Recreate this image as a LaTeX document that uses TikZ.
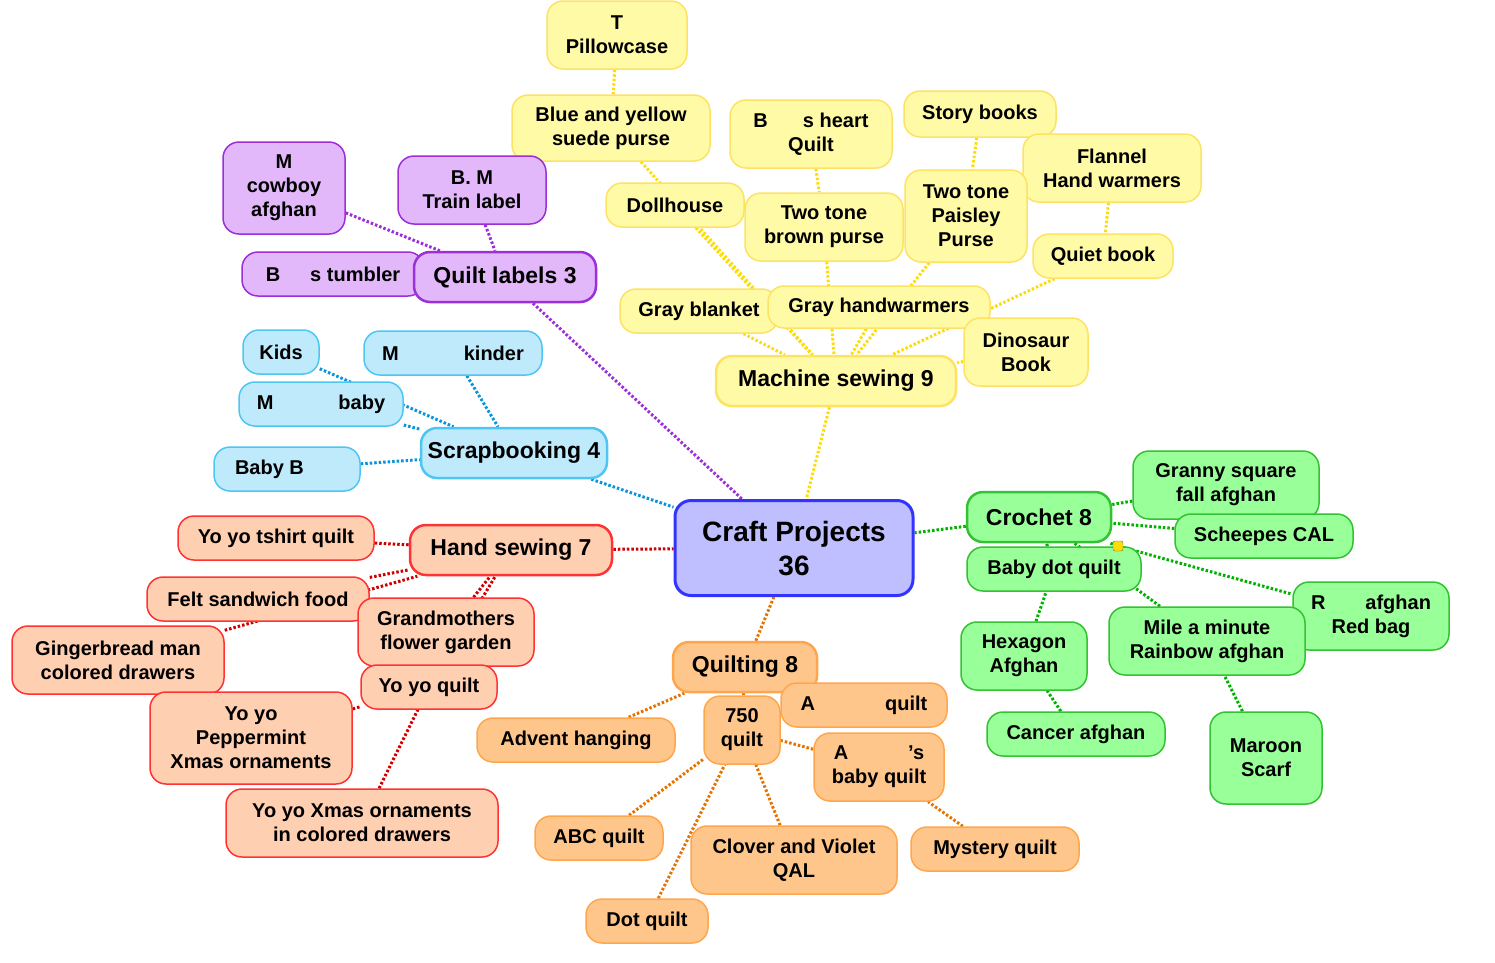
\documentclass[tikz,border=0pt]{standalone}
\usepackage{fontspec}
\setmainfont{Liberation Sans}
\usetikzlibrary{backgrounds}
\definecolor{pfill}{HTML}{E2B8FA}
\definecolor{pdraw}{HTML}{9B30D9}
\begin{document}
\begin{tikzpicture}[x=1pt,y=-1pt,
 box/.style={rounded corners=16pt,line width=1.5pt,align=center,inner sep=2pt,font=\fontsize{20}{24}\selectfont\bfseries},
 cat/.style={box,line width=2.5pt,font=\fontsize{23}{27}\selectfont\bfseries},
 yb/.style={box,draw=yellow!70!orange!60,fill=yellow!35},
 pb/.style={box,draw=pdraw,fill=pfill},
 bb/.style={box,draw=cyan!70,fill=cyan!25},
 rb/.style={box,draw=red!80,fill=red!25!orange!30},
 ob/.style={box,draw=orange!70,fill=orange!45},
 gb/.style={box,draw=green!70!black!80,fill=green!40},
 e/.style={line width=3pt,dash pattern=on 2.5pt off 2pt},
 ye/.style={e,draw=yellow!80!orange},
 pe/.style={e,draw=pdraw},
 be/.style={e,draw=cyan!80!blue},
 re/.style={e,draw=red!80!black},
 oe/.style={e,draw=orange!90!black},
 ge/.style={e,draw=green!70!black}]
\useasboundingbox (0,0) rectangle (1495,962);
% center
\node[box,line width=3pt,draw=blue!80,fill=blue!25,minimum width=238,minimum height=95,font=\fontsize{28}{34}\selectfont\bfseries] (c) at (794,548) {Craft Projects\\36};
% yellow
\node[yb,minimum width=140,minimum height=68] (pil) at (617,35) {T\hspace{60pt}\\Pillowcase};
\node[yb,minimum width=198,minimum height=66] (byp) at (611,128) {Blue and yellow\\suede purse};
\node[yb,minimum width=162,minimum height=68] (hq) at (811,134) {B\hspace{35pt}s heart\\Quilt};
\node[yb,minimum width=152,minimum height=46] (sb) at (980,114) {Story books};
\node[yb,minimum width=178,minimum height=68] (fl) at (1112,168) {Flannel\\Hand warmers};
\node[yb,minimum width=138,minimum height=44] (dh) at (675,205) {Dollhouse};
\node[yb,minimum width=158,minimum height=68] (tb) at (824,227) {Two tone\\brown purse};
\node[yb,minimum width=122,minimum height=92] (pp) at (966,216) {Two tone\\Paisley\\Purse};
\node[yb,minimum width=140,minimum height=44] (qb) at (1103,256) {Quiet book};
\node[yb,minimum width=158,minimum height=44] (gbl) at (699,311) {Gray blanket};
\node[yb,minimum width=222,minimum height=42] (gh) at (879,307) {Gray handwarmers};
\node[yb,minimum width=124,minimum height=68] (db) at (1026,352) {Dinosaur\\Book};
\node[yb,cat,draw=yellow!70!orange!60,minimum width=240,minimum height=50] (ms) at (836,381) {Machine sewing 9};
% purple
\node[pb,minimum width=122,minimum height=92] (cow) at (284,188) {M\hspace{70pt}\\cowboy\\afghan};
\node[pb,minimum width=148,minimum height=68] (tl) at (472,190) {B. M\hspace{70pt}\\Train label};
\node[pb,minimum width=182,minimum height=44] (tum) at (333,274) {B\hspace{30pt}s tumbler};
\node[pb,cat,draw=pdraw,minimum width=182,minimum height=50] (ql) at (505,277) {Quilt labels 3};
% blue
\node[bb,minimum width=76,minimum height=44] (kid) at (281,352) {Kids};
\node[bb,minimum width=178,minimum height=44] (kin) at (453,353) {M\hspace{65pt}kinder};
\node[bb,minimum width=164,minimum height=44] (bab) at (321,404) {M\hspace{65pt}baby};
\node[bb,minimum width=146,minimum height=44] (bbb) at (287,469) {Baby B\hspace{35pt}};
\node[bb,cat,draw=cyan!70,minimum width=186,minimum height=50] (sc) at (514,453) {Scrapbooking 4};
% red
\node[rb,minimum width=196,minimum height=44] (ts) at (276,538) {Yo yo tshirt quilt};
\node[rb,cat,draw=red!80,minimum width=202,minimum height=50] (hs) at (511,550) {Hand sewing 7};
\node[rb,minimum width=222,minimum height=44] (fs) at (258,599) {Felt sandwich food};
\node[rb,minimum width=176,minimum height=68] (gf) at (446,632) {Grandmothers\\flower garden};
\node[rb,minimum width=212,minimum height=68] (gm) at (118,660) {Gingerbread man\\colored drawers};
\node[rb,minimum width=136,minimum height=44] (yq) at (429,687) {Yo yo quilt};
\node[rb,minimum width=202,minimum height=92] (yp) at (251,738) {Yo yo\\Peppermint\\Xmas ornaments};
\node[rb,minimum width=272,minimum height=68] (yx) at (362,823) {Yo yo Xmas ornaments\\in colored drawers};
% orange
\node[ob,cat,draw=orange!70,minimum width=144,minimum height=50] (qu) at (745,667) {Quilting 8};
\node[ob,minimum width=166,minimum height=44] (aq) at (864,705) {A\hspace{70pt}quilt};
\node[ob,minimum width=198,minimum height=44] (ad) at (576,740) {Advent hanging};
\node[ob,minimum width=76,minimum height=68] (q750) at (742,730) {750\\quilt};
\node[ob,minimum width=130,minimum height=68] (abq) at (879,767) {A\hspace{60pt}'s\\baby quilt};
\node[ob,minimum width=128,minimum height=44] (abc) at (599,838) {ABC quilt};
\node[ob,minimum width=206,minimum height=68] (cv) at (794,860) {Clover and Violet\\QAL};
\node[ob,minimum width=168,minimum height=44] (my) at (995,849) {Mystery quilt};
\node[ob,minimum width=122,minimum height=44] (dq) at (647,921) {Dot quilt};
% green
\node[gb,cat,draw=green!70!black!80,minimum width=144,minimum height=50] (cr) at (1039,517) {Crochet 8};
\node[gb,minimum width=186,minimum height=68] (gs) at (1226,485) {Granny square\\fall afghan};
\node[gb,minimum width=178,minimum height=44] (sch) at (1264,536) {Scheepes CAL};
\node[gb,minimum width=174,minimum height=44] (bdq) at (1054,569) {Baby dot quilt};
\node[gb,minimum width=156,minimum height=68] (rbag) at (1371,616) {R\hspace{40pt}afghan\\Red bag};
\node[gb,minimum width=126,minimum height=68] (hex) at (1024,656) {Hexagon\\Afghan};
\node[gb,minimum width=196,minimum height=68] (mile) at (1207,641) {Mile a minute\\Rainbow afghan};
\node[gb,minimum width=178,minimum height=44] (can) at (1076,734) {Cancer afghan};
\node[gb,minimum width=112,minimum height=92] (mar) at (1266,758) {Maroon\\Scarf};
\node[draw=black!60,fill=yellow!80!orange,minimum size=10pt,inner sep=0pt,rounded corners=2pt] (h) at (1118,546) {};
\begin{pgfonlayer}{background}
\draw[ye] (pil)--(byp);
\draw[ye] (byp)--(ms); \draw[ye] (dh)--(ms); \draw[ye] (gbl)--(ms);
\draw[ye] (hq)--(tb); \draw[ye] (tb)--(ms); \draw[ye] (sb)--(pp); \draw[ye] (pp)--(ms);
\draw[ye] (gh)--(ms); \draw[ye] (fl)--(qb); \draw[ye] (qb)--(ms); \draw[ye] (db)--(ms);
\draw[ye] (ms)--(c);
\draw[pe] (cow)--(ql); \draw[pe] (tl)--(ql); \draw[pe] (tum)--(ql); \draw[pe] (ql)--(c);
\draw[be] (kid)--(sc); \draw[be] (kin)--(sc); \draw[be] (bab)--(sc); \draw[be] (bbb)--(sc); \draw[be] (sc)--(c);
\draw[re] (ts)--(hs); \draw[re] (fs)--(hs); \draw[re] (gf)--(hs); \draw[re] (gm)--(hs);
\draw[re] (yq)--(hs); \draw[re] (yp)--(yq); \draw[re] (yx)--(yq); \draw[re] (hs)--(c);
\draw[oe] (qu)--(c); \draw[oe] (ad)--(qu); \draw[oe] (q750)--(qu); \draw[oe] (aq)--(qu);
\draw[oe] (abq)--(q750); \draw[oe] (my)--(abq); \draw[oe] (abc)--(q750); \draw[oe] (dq)--(q750); \draw[oe] (cv)--(q750);
\draw[ge] (cr)--(c); \draw[ge] (gs)--(cr); \draw[ge] (sch)--(cr); \draw[ge] (cr)--(h); \draw[ge] (h)--(rbag);
\draw[ge] (mile)--(cr); \draw[ge] (bdq)--(cr); \draw[ge] (hex)--(bdq); \draw[ge] (can)--(hex); \draw[ge] (mar)--(mile);
\end{pgfonlayer}
\end{tikzpicture}
\end{document}
